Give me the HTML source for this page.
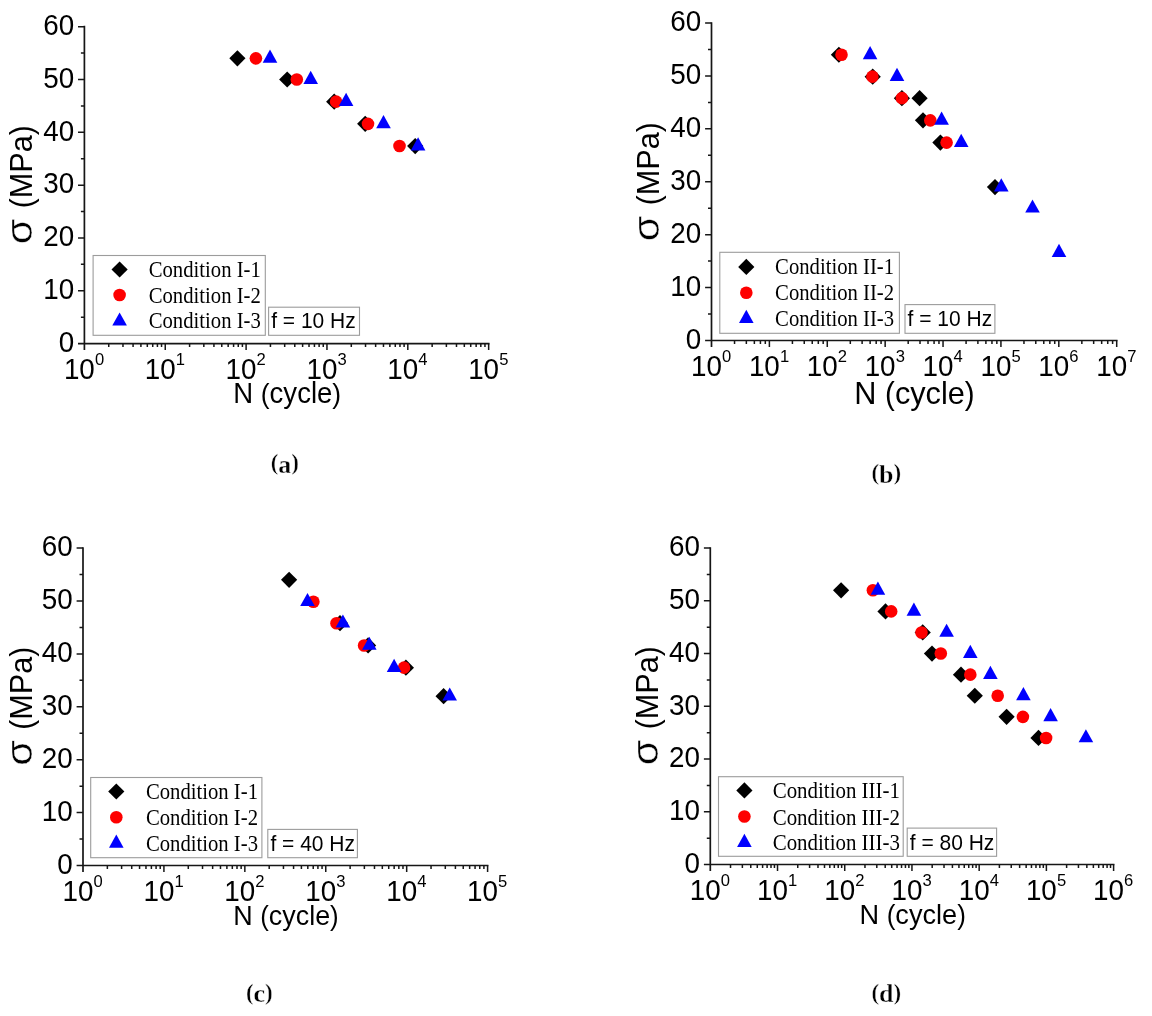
<!DOCTYPE html>
<html lang="en">
<head>
<meta charset="utf-8">
<title>S-N curves</title>
<style>
html,body{margin:0;padding:0;background:#fff;}
body{width:1152px;height:1016px;overflow:hidden;}
svg{display:block;}
text{fill:#000;}
.ax{fill:none;stroke:#161616;stroke-width:1.7;}
.tk{fill:none;stroke:#161616;stroke-width:1.5;}
.tl text{font-family:"Liberation Sans", Arial, sans-serif;font-size:27.8px;}
.tl text.sp{font-size:16.6px;}
.xl{font-family:"Liberation Sans", Arial, sans-serif;font-size:27.3px;}
.yl{font-family:"Liberation Sans", Arial, sans-serif;font-size:30.7px;}
.sg{font-family:"Liberation Sans", Arial, sans-serif;font-size:37.8px;stroke:#fff;stroke-width:0.4px;}
.lg text{font-family:"Liberation Serif", "Times New Roman", serif;font-size:23.0px;}
.ft{font-family:"Liberation Sans", Arial, sans-serif;font-size:21.0px;}
.cp{font-family:"Liberation Serif", "Times New Roman", serif;font-weight:bold;font-size:21.5px;stroke:#fff;stroke-width:0.3px;}
.cp .pr{font-size:19.0px;}
.bx{fill:#fff;stroke:#9c9c9c;stroke-width:1.1;}
</style>
</head>
<body>
<svg width="1152" height="1016" viewBox="0 0 1152 1016">
<g id="plot-a">
<path class="ax" d="M84.4 25.81V350M78 343.6H489.51"/>
<path class="tk" d="M84.4 290.78H78M84.4 237.95H78M84.4 185.13H78M84.4 132.31H78M84.4 79.48H78M84.4 26.66H78M84.4 317.19H80.9M84.4 264.37H80.9M84.4 211.54H80.9M84.4 158.72H80.9M84.4 105.9H80.9M84.4 53.07H80.9M108.74 343.6V347.1M122.98 343.6V347.1M133.08 343.6V347.1M140.91 343.6V347.1M147.32 343.6V347.1M152.73 343.6V347.1M157.42 343.6V347.1M161.55 343.6V347.1M165.25 343.6V350M189.59 343.6V347.1M203.83 343.6V347.1M213.93 343.6V347.1M221.77 343.6V347.1M228.17 343.6V347.1M233.58 343.6V347.1M238.27 343.6V347.1M242.4 343.6V347.1M246.1 343.6V350M270.44 343.6V347.1M284.68 343.6V347.1M294.78 343.6V347.1M302.62 343.6V347.1M309.02 343.6V347.1M314.43 343.6V347.1M319.12 343.6V347.1M323.26 343.6V347.1M326.96 343.6V350M351.29 343.6V347.1M365.53 343.6V347.1M375.63 343.6V347.1M383.47 343.6V347.1M389.87 343.6V347.1M395.28 343.6V347.1M399.97 343.6V347.1M404.11 343.6V347.1M407.81 343.6V350M432.15 343.6V347.1M446.38 343.6V347.1M456.49 343.6V347.1M464.32 343.6V347.1M470.72 343.6V347.1M476.14 343.6V347.1M480.82 343.6V347.1M484.96 343.6V347.1M488.66 343.6V350"/>
<g class="tl" text-anchor="end">
<text transform="translate(74.1 351.9) scale(1 1.04)">0</text>
<text transform="translate(74.1 299.08) scale(1 1.04)">10</text>
<text transform="translate(74.1 246.25) scale(1 1.04)">20</text>
<text transform="translate(74.1 193.43) scale(1 1.04)">30</text>
<text transform="translate(74.1 140.61) scale(1 1.04)">40</text>
<text transform="translate(74.1 87.78) scale(1 1.04)">50</text>
<text transform="translate(74.1 34.96) scale(1 1.04)">60</text>
</g>
<g class="tl">
<text transform="translate(63.9 378.6) scale(1 1.04)">10</text><text class="sp" transform="translate(94.9 365.3)">0</text>
<text transform="translate(144.75 378.6) scale(1 1.04)">10</text><text class="sp" transform="translate(175.75 365.3)">1</text>
<text transform="translate(225.6 378.6) scale(1 1.04)">10</text><text class="sp" transform="translate(256.6 365.3)">2</text>
<text transform="translate(306.46 378.6) scale(1 1.04)">10</text><text class="sp" transform="translate(337.46 365.3)">3</text>
<text transform="translate(387.31 378.6) scale(1 1.04)">10</text><text class="sp" transform="translate(418.31 365.3)">4</text>
<text transform="translate(468.16 378.6) scale(1 1.04)">10</text><text class="sp" transform="translate(499.16 365.3)">5</text>
</g>
<text style="font-size:27.55px" class="xl" text-anchor="middle" transform="translate(287.2 402.5) scale(1 1.04)">N <tspan font-size="96%">(</tspan>cycle<tspan font-size="96%">)</tspan></text>
<text class="sg" text-anchor="middle" transform="translate(32.1 231.5) rotate(-90) scale(1.1 0.96)">σ</text>
<text class="yl" text-anchor="middle" transform="translate(31.9 166.8) rotate(-90) scale(1 1.04)"><tspan font-size="96%">(</tspan>MPa<tspan font-size="96%">)</tspan></text>
<g fill="#000"><path d="M237.4 50.25L245.5 58.35L237.4 66.45L229.3 58.35Z"/><path d="M287.2 71.38L295.3 79.48L287.2 87.58L279.1 79.48Z"/><path d="M334.2 93.57L342.3 101.67L334.2 109.77L326.1 101.67Z"/><path d="M365.2 115.75L373.3 123.85L365.2 131.95L357.1 123.85Z"/><path d="M415.2 137.94L423.3 146.04L415.2 154.14L407.1 146.04Z"/></g>
<g fill="#fe0000"><circle cx="255.9" cy="58.35" r="6.3"/><circle cx="296.8" cy="79.48" r="6.3"/><circle cx="336.1" cy="101.67" r="6.3"/><circle cx="368" cy="123.85" r="6.3"/><circle cx="399.5" cy="146.04" r="6.3"/></g>
<g fill="#0000fe"><path d="M270 49.55L277.3 62.75L262.7 62.75Z"/><path d="M310.7 70.68L318 83.88L303.4 83.88Z"/><path d="M346.1 92.87L353.4 106.07L338.8 106.07Z"/><path d="M383.5 115.05L390.8 128.25L376.2 128.25Z"/><path d="M418.1 137.24L425.4 150.44L410.8 150.44Z"/></g>
<rect class="bx" x="93.1" y="255.5" width="172.2" height="79.8"/>
<g fill="#000"><path d="M119.6 261.4L127.7 269.5L119.6 277.6L111.5 269.5Z"/></g>
<g fill="#fe0000"><circle cx="119.6" cy="295" r="6.3"/></g>
<g fill="#0000fe"><path d="M119.6 312.4L126.9 325.6L112.3 325.6Z"/></g>
<g class="lg">
<text transform="translate(148.7 277) scale(0.9 1)">Condition I-1</text>
<text transform="translate(148.7 303.1) scale(0.9 1)">Condition I-2</text>
<text transform="translate(148.7 328.2) scale(0.9 1)">Condition I-3</text>
</g>
<rect class="bx" x="268.6" y="307.2" width="90.9" height="28.1"/>
<text class="ft" transform="translate(271.2 327.5) scale(1 1.04)">f = 10 Hz</text>
<text class="cp" text-anchor="middle" transform="translate(284.8 472.8) scale(1.21 1.19)"><tspan class="pr" dy="-2">(</tspan><tspan dy="2">a</tspan><tspan class="pr" dy="-2">)</tspan></text>
</g>
<g id="plot-b">
<path class="ax" d="M711.5 22.15V346.9M705.1 340.5H1117.55"/>
<path class="tk" d="M711.5 287.58H705.1M711.5 234.67H705.1M711.5 181.75H705.1M711.5 128.83H705.1M711.5 75.92H705.1M711.5 23H705.1M711.5 314.04H708M711.5 261.12H708M711.5 208.21H708M711.5 155.29H708M711.5 102.38H708M711.5 49.46H708M734.54 340.5V344M746.35 340.5V344M754.36 340.5V344M760.42 340.5V344M765.3 340.5V344M769.39 340.5V346.9M792.42 340.5V344M804.24 340.5V344M812.24 340.5V344M818.3 340.5V344M823.19 340.5V344M827.27 340.5V346.9M850.31 340.5V344M862.12 340.5V344M870.13 340.5V344M876.19 340.5V344M881.07 340.5V344M885.16 340.5V346.9M908.19 340.5V344M920.01 340.5V344M928.01 340.5V344M934.08 340.5V344M938.96 340.5V344M943.04 340.5V346.9M966.08 340.5V344M977.89 340.5V344M985.9 340.5V344M991.96 340.5V344M996.84 340.5V344M1000.93 340.5V346.9M1023.96 340.5V344M1035.78 340.5V344M1043.78 340.5V344M1049.85 340.5V344M1054.73 340.5V344M1058.81 340.5V346.9M1081.85 340.5V344M1093.66 340.5V344M1101.67 340.5V344M1107.73 340.5V344M1112.61 340.5V344M1116.7 340.5V346.9"/>
<g class="tl" text-anchor="end">
<text transform="translate(701.2 348.8) scale(1 1.04)">0</text>
<text transform="translate(701.2 295.88) scale(1 1.04)">10</text>
<text transform="translate(701.2 242.97) scale(1 1.04)">20</text>
<text transform="translate(701.2 190.05) scale(1 1.04)">30</text>
<text transform="translate(701.2 137.13) scale(1 1.04)">40</text>
<text transform="translate(701.2 84.22) scale(1 1.04)">50</text>
<text transform="translate(701.2 31.3) scale(1 1.04)">60</text>
</g>
<g class="tl">
<text transform="translate(691 375.5) scale(1 1.04)">10</text><text class="sp" transform="translate(722 362.2)">0</text>
<text transform="translate(748.89 375.5) scale(1 1.04)">10</text><text class="sp" transform="translate(779.89 362.2)">1</text>
<text transform="translate(806.77 375.5) scale(1 1.04)">10</text><text class="sp" transform="translate(837.77 362.2)">2</text>
<text transform="translate(864.66 375.5) scale(1 1.04)">10</text><text class="sp" transform="translate(895.66 362.2)">3</text>
<text transform="translate(922.54 375.5) scale(1 1.04)">10</text><text class="sp" transform="translate(953.54 362.2)">4</text>
<text transform="translate(980.43 375.5) scale(1 1.04)">10</text><text class="sp" transform="translate(1011.43 362.2)">5</text>
<text transform="translate(1038.31 375.5) scale(1 1.04)">10</text><text class="sp" transform="translate(1069.31 362.2)">6</text>
<text transform="translate(1096.2 375.5) scale(1 1.04)">10</text><text class="sp" transform="translate(1127.2 362.2)">7</text>
</g>
<text style="font-size:30.7px" class="xl" text-anchor="middle" transform="translate(914.5 403.6) scale(1 1.04)">N <tspan font-size="96%">(</tspan>cycle<tspan font-size="96%">)</tspan></text>
<text class="sg" text-anchor="middle" transform="translate(659.2 228.5) rotate(-90) scale(1.1 0.96)">σ</text>
<text class="yl" text-anchor="middle" transform="translate(659 163.8) rotate(-90) scale(1 1.04)"><tspan font-size="96%">(</tspan>MPa<tspan font-size="96%">)</tspan></text>
<g fill="#000"><path d="M838.9 46.65L847 54.75L838.9 62.85L830.8 54.75Z"/><path d="M872.7 68.56L880.8 76.66L872.7 84.76L864.6 76.66Z"/><path d="M901.9 90.04L910 98.14L901.9 106.24L893.8 98.14Z"/><path d="M919.6 90.04L927.7 98.14L919.6 106.24L911.5 98.14Z"/><path d="M923 112.27L931.1 120.37L923 128.47L914.9 120.37Z"/><path d="M940.4 134.49L948.5 142.59L940.4 150.69L932.3 142.59Z"/><path d="M995 178.94L1003.1 187.04L995 195.14L986.9 187.04Z"/></g>
<g fill="#fe0000"><circle cx="841.5" cy="54.75" r="6.3"/><circle cx="872.4" cy="76.66" r="6.3"/><circle cx="901.9" cy="98.14" r="6.3"/><circle cx="930.3" cy="120.37" r="6.3"/><circle cx="946.6" cy="142.59" r="6.3"/></g>
<g fill="#0000fe"><path d="M870.1 45.95L877.4 59.15L862.8 59.15Z"/><path d="M897 67.86L904.3 81.06L889.7 81.06Z"/><path d="M941.6 111.57L948.9 124.77L934.3 124.77Z"/><path d="M961.2 133.79L968.5 146.99L953.9 146.99Z"/><path d="M1001.3 178.24L1008.6 191.44L994 191.44Z"/><path d="M1032.5 199.41L1039.8 212.61L1025.2 212.61Z"/><path d="M1059 243.86L1066.3 257.06L1051.7 257.06Z"/></g>
<rect class="bx" x="719.8" y="252.3" width="179.6" height="81"/>
<g fill="#000"><path d="M746.3 258.8L754.4 266.9L746.3 275L738.2 266.9Z"/></g>
<g fill="#fe0000"><circle cx="746.3" cy="292.7" r="6.3"/></g>
<g fill="#0000fe"><path d="M746.3 309.8L753.6 323L739 323Z"/></g>
<g class="lg">
<text transform="translate(775.1 273.6) scale(0.9 1)">Condition II-1</text>
<text transform="translate(775.1 299.6) scale(0.9 1)">Condition II-2</text>
<text transform="translate(775.1 326) scale(0.9 1)">Condition II-3</text>
</g>
<rect class="bx" x="905" y="304.6" width="89.9" height="28.7"/>
<text class="ft" transform="translate(907.6 325.8) scale(1 1.04)">f = 10 Hz</text>
<text class="cp" text-anchor="middle" transform="translate(886.3 482.7) scale(1.21 1.19)"><tspan class="pr" dy="-2">(</tspan><tspan dy="2">b</tspan><tspan class="pr" dy="-2">)</tspan></text>
</g>
<g id="plot-c">
<path class="ax" d="M83 547.25V871.9M76.6 865.5H488.45"/>
<path class="tk" d="M83 812.6H76.6M83 759.7H76.6M83 706.8H76.6M83 653.9H76.6M83 601H76.6M83 548.1H76.6M83 839.05H79.5M83 786.15H79.5M83 733.25H79.5M83 680.35H79.5M83 627.45H79.5M83 574.55H79.5M107.36 865.5V869M121.61 865.5V869M131.72 865.5V869M139.56 865.5V869M145.97 865.5V869M151.39 865.5V869M156.08 865.5V869M160.22 865.5V869M163.92 865.5V871.9M188.28 865.5V869M202.53 865.5V869M212.64 865.5V869M220.48 865.5V869M226.89 865.5V869M232.31 865.5V869M237 865.5V869M241.14 865.5V869M244.84 865.5V871.9M269.2 865.5V869M283.45 865.5V869M293.56 865.5V869M301.4 865.5V869M307.81 865.5V869M313.23 865.5V869M317.92 865.5V869M322.06 865.5V869M325.76 865.5V871.9M350.12 865.5V869M364.37 865.5V869M374.48 865.5V869M382.32 865.5V869M388.73 865.5V869M394.15 865.5V869M398.84 865.5V869M402.98 865.5V869M406.68 865.5V871.9M431.04 865.5V869M445.29 865.5V869M455.4 865.5V869M463.24 865.5V869M469.65 865.5V869M475.07 865.5V869M479.76 865.5V869M483.9 865.5V869M487.6 865.5V871.9"/>
<g class="tl" text-anchor="end">
<text transform="translate(72.7 873.8) scale(1 1.04)">0</text>
<text transform="translate(72.7 820.9) scale(1 1.04)">10</text>
<text transform="translate(72.7 768) scale(1 1.04)">20</text>
<text transform="translate(72.7 715.1) scale(1 1.04)">30</text>
<text transform="translate(72.7 662.2) scale(1 1.04)">40</text>
<text transform="translate(72.7 609.3) scale(1 1.04)">50</text>
<text transform="translate(72.7 556.4) scale(1 1.04)">60</text>
</g>
<g class="tl">
<text transform="translate(62.5 900.5) scale(1 1.04)">10</text><text class="sp" transform="translate(93.5 887.2)">0</text>
<text transform="translate(143.42 900.5) scale(1 1.04)">10</text><text class="sp" transform="translate(174.42 887.2)">1</text>
<text transform="translate(224.34 900.5) scale(1 1.04)">10</text><text class="sp" transform="translate(255.34 887.2)">2</text>
<text transform="translate(305.26 900.5) scale(1 1.04)">10</text><text class="sp" transform="translate(336.26 887.2)">3</text>
<text transform="translate(386.18 900.5) scale(1 1.04)">10</text><text class="sp" transform="translate(417.18 887.2)">4</text>
<text transform="translate(467.1 900.5) scale(1 1.04)">10</text><text class="sp" transform="translate(498.1 887.2)">5</text>
</g>
<text style="font-size:26.9px" class="xl" text-anchor="middle" transform="translate(286 924.9) scale(1 1.04)">N <tspan font-size="96%">(</tspan>cycle<tspan font-size="96%">)</tspan></text>
<text class="sg" text-anchor="middle" transform="translate(32.3 753) rotate(-90) scale(1.1 0.96)">σ</text>
<text class="yl" text-anchor="middle" transform="translate(32.1 688.3) rotate(-90) scale(1 1.04)"><tspan font-size="96%">(</tspan>MPa<tspan font-size="96%">)</tspan></text>
<g fill="#000"><path d="M289.1 571.74L297.2 579.84L289.1 587.94L281 579.84Z"/><path d="M340 615.12L348.1 623.22L340 631.32L331.9 623.22Z"/><path d="M368.1 637.34L376.2 645.44L368.1 653.54L360 645.44Z"/><path d="M405.9 659.55L414 667.65L405.9 675.75L397.8 667.65Z"/><path d="M443.6 688.12L451.7 696.22L443.6 704.32L435.5 696.22Z"/></g>
<g fill="#fe0000"><circle cx="313.4" cy="601.69" r="6.3"/><circle cx="336.5" cy="623.22" r="6.3"/><circle cx="364.1" cy="645.44" r="6.3"/><circle cx="404" cy="667.65" r="6.3"/></g>
<g fill="#0000fe"><path d="M307.5 592.89L314.8 606.09L300.2 606.09Z"/><path d="M342.9 614.42L350.2 627.62L335.6 627.62Z"/><path d="M369.3 636.64L376.6 649.84L362 649.84Z"/><path d="M394.1 658.85L401.4 672.05L386.8 672.05Z"/><path d="M449.7 687.42L457 700.62L442.4 700.62Z"/></g>
<rect class="bx" x="90.7" y="777.5" width="171.2" height="80.2"/>
<g fill="#000"><path d="M116.3 783.4L124.4 791.5L116.3 799.6L108.2 791.5Z"/></g>
<g fill="#fe0000"><circle cx="116.3" cy="817.3" r="6.3"/></g>
<g fill="#0000fe"><path d="M116.3 834.6L123.6 847.8L109 847.8Z"/></g>
<g class="lg">
<text transform="translate(145.9 798.5) scale(0.9 1)">Condition I-1</text>
<text transform="translate(145.9 825.1) scale(0.9 1)">Condition I-2</text>
<text transform="translate(145.9 850.9) scale(0.9 1)">Condition I-3</text>
</g>
<rect class="bx" x="267.8" y="829.4" width="89.6" height="28.3"/>
<text class="ft" transform="translate(270.4 850.7) scale(1 1.04)">f = 40 Hz</text>
<text class="cp" text-anchor="middle" transform="translate(259.3 1002) scale(1.21 1.19)"><tspan class="pr" dy="-2">(</tspan><tspan dy="2">c</tspan><tspan class="pr" dy="-2">)</tspan></text>
</g>
<g id="plot-d">
<path class="ax" d="M710.3 547.25V870.9M703.9 864.5H1114.45"/>
<path class="tk" d="M710.3 811.77H703.9M710.3 759.03H703.9M710.3 706.3H703.9M710.3 653.57H703.9M710.3 600.83H703.9M710.3 548.1H703.9M710.3 838.13H706.8M710.3 785.4H706.8M710.3 732.67H706.8M710.3 679.93H706.8M710.3 627.2H706.8M710.3 574.47H706.8M730.53 864.5V868M742.37 864.5V868M750.77 864.5V868M757.28 864.5V868M762.6 864.5V868M767.1 864.5V868M771 864.5V868M774.44 864.5V868M777.52 864.5V870.9M797.75 864.5V868M809.59 864.5V868M817.99 864.5V868M824.5 864.5V868M829.82 864.5V868M834.32 864.5V868M838.22 864.5V868M841.66 864.5V868M844.73 864.5V870.9M864.97 864.5V868M876.8 864.5V868M885.2 864.5V868M891.72 864.5V868M897.04 864.5V868M901.54 864.5V868M905.44 864.5V868M908.87 864.5V868M911.95 864.5V870.9M932.18 864.5V868M944.02 864.5V868M952.42 864.5V868M958.93 864.5V868M964.25 864.5V868M968.75 864.5V868M972.65 864.5V868M976.09 864.5V868M979.17 864.5V870.9M999.4 864.5V868M1011.24 864.5V868M1019.64 864.5V868M1026.15 864.5V868M1031.47 864.5V868M1035.97 864.5V868M1039.87 864.5V868M1043.31 864.5V868M1046.38 864.5V870.9M1066.62 864.5V868M1078.45 864.5V868M1086.85 864.5V868M1093.37 864.5V868M1098.69 864.5V868M1103.19 864.5V868M1107.09 864.5V868M1110.52 864.5V868M1113.6 864.5V870.9"/>
<g class="tl" text-anchor="end">
<text transform="translate(700 872.8) scale(1 1.04)">0</text>
<text transform="translate(700 820.07) scale(1 1.04)">10</text>
<text transform="translate(700 767.33) scale(1 1.04)">20</text>
<text transform="translate(700 714.6) scale(1 1.04)">30</text>
<text transform="translate(700 661.87) scale(1 1.04)">40</text>
<text transform="translate(700 609.13) scale(1 1.04)">50</text>
<text transform="translate(700 556.4) scale(1 1.04)">60</text>
</g>
<g class="tl">
<text transform="translate(689.8 899.5) scale(1 1.04)">10</text><text class="sp" transform="translate(720.8 886.2)">0</text>
<text transform="translate(757.02 899.5) scale(1 1.04)">10</text><text class="sp" transform="translate(788.02 886.2)">1</text>
<text transform="translate(824.23 899.5) scale(1 1.04)">10</text><text class="sp" transform="translate(855.23 886.2)">2</text>
<text transform="translate(891.45 899.5) scale(1 1.04)">10</text><text class="sp" transform="translate(922.45 886.2)">3</text>
<text transform="translate(958.67 899.5) scale(1 1.04)">10</text><text class="sp" transform="translate(989.67 886.2)">4</text>
<text transform="translate(1025.88 899.5) scale(1 1.04)">10</text><text class="sp" transform="translate(1056.88 886.2)">5</text>
<text transform="translate(1093.1 899.5) scale(1 1.04)">10</text><text class="sp" transform="translate(1124.1 886.2)">6</text>
</g>
<text style="font-size:27.15px" class="xl" text-anchor="middle" transform="translate(912.7 923.6) scale(1 1.04)">N <tspan font-size="96%">(</tspan>cycle<tspan font-size="96%">)</tspan></text>
<text class="sg" text-anchor="middle" transform="translate(658 752.5) rotate(-90) scale(1.1 0.96)">σ</text>
<text class="yl" text-anchor="middle" transform="translate(657.8 687.8) rotate(-90) scale(1 1.04)"><tspan font-size="96%">(</tspan>MPa<tspan font-size="96%">)</tspan></text>
<g fill="#000"><path d="M841.1 582.19L849.2 590.29L841.1 598.39L833 590.29Z"/><path d="M885.5 603.28L893.6 611.38L885.5 619.48L877.4 611.38Z"/><path d="M922.7 624.37L930.8 632.47L922.7 640.57L914.6 632.47Z"/><path d="M932 645.47L940.1 653.57L932 661.67L923.9 653.57Z"/><path d="M961 666.56L969.1 674.66L961 682.76L952.9 674.66Z"/><path d="M974.8 687.65L982.9 695.75L974.8 703.85L966.7 695.75Z"/><path d="M1006.6 708.75L1014.7 716.85L1006.6 724.95L998.5 716.85Z"/><path d="M1038.5 729.84L1046.6 737.94L1038.5 746.04L1030.4 737.94Z"/></g>
<g fill="#fe0000"><circle cx="872.9" cy="590.29" r="6.3"/><circle cx="891.2" cy="611.38" r="6.3"/><circle cx="921.5" cy="632.47" r="6.3"/><circle cx="940.8" cy="653.57" r="6.3"/><circle cx="970.3" cy="674.66" r="6.3"/><circle cx="997.7" cy="695.75" r="6.3"/><circle cx="1022.9" cy="716.85" r="6.3"/><circle cx="1046.1" cy="737.94" r="6.3"/></g>
<g fill="#0000fe"><path d="M877.9 581.49L885.2 594.69L870.6 594.69Z"/><path d="M913.9 602.58L921.2 615.78L906.6 615.78Z"/><path d="M946.6 623.67L953.9 636.87L939.3 636.87Z"/><path d="M970.3 644.77L977.6 657.97L963 657.97Z"/><path d="M990.4 665.86L997.7 679.06L983.1 679.06Z"/><path d="M1023.4 686.95L1030.7 700.15L1016.1 700.15Z"/><path d="M1050.6 708.05L1057.9 721.25L1043.3 721.25Z"/><path d="M1085.9 729.14L1093.2 742.34L1078.6 742.34Z"/></g>
<rect class="bx" x="718.5" y="776.7" width="184.7" height="79.6"/>
<g fill="#000"><path d="M744.4 782.3L752.5 790.4L744.4 798.5L736.3 790.4Z"/></g>
<g fill="#fe0000"><circle cx="744.4" cy="816.5" r="6.3"/></g>
<g fill="#0000fe"><path d="M744.4 833.8L751.7 847L737.1 847Z"/></g>
<g class="lg">
<text transform="translate(772.7 798.4) scale(0.91 1)">Condition III-1</text>
<text transform="translate(772.7 824.5) scale(0.91 1)">Condition III-2</text>
<text transform="translate(772.7 850.1) scale(0.91 1)">Condition III-3</text>
</g>
<rect class="bx" x="907.2" y="828.1" width="89.4" height="28.2"/>
<text class="ft" transform="translate(909.8 849.5) scale(1 1.04)">f = 80 Hz</text>
<text class="cp" text-anchor="middle" transform="translate(886.3 1002) scale(1.21 1.19)"><tspan class="pr" dy="-2">(</tspan><tspan dy="2">d</tspan><tspan class="pr" dy="-2">)</tspan></text>
</g>
</svg>
</body>
</html>
